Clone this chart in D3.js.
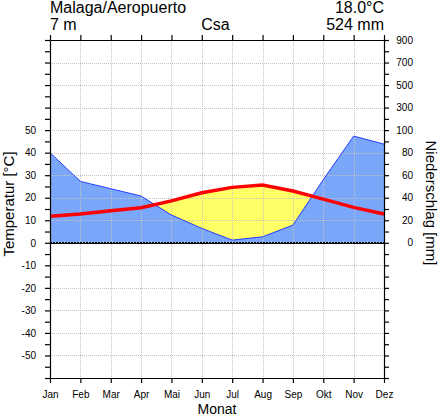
<!DOCTYPE html>
<html>
<head>
<meta charset="utf-8">
<script src="https://cdn.jsdelivr.net/npm/d3@7"></script>
<style>
  body { margin: 0; background: #fff; }
  svg text { font-family: "Liberation Sans", Arial, sans-serif; fill: #000; }
</style>
</head>
<body>
<div id="frame"></div>
<script>
'use strict'

var months = ["Jan", "Feb", "Mar", "Apr", "Mai", "Jun", "Jul", "Aug", "Sep", "Okt", "Nov", "Dez"]
var temp = [11.8, 12.8, 14.2, 15.6, 18.6, 22.2, 24.6, 25.6, 23.0, 19.4, 15.7, 12.8]
var precip = [80, 54.5, 48, 41.5, 24.6, 12.8, 2.4, 5.3, 15.7, 56, 94.7, 87.6]
var tempLabels = [-50, -40, -30, -20, -10, 0, 10, 20, 30, 40, 50]
var precipLabels = [0, 20, 40, 60, 80, 100, 300, 500, 700, 900]

var station = "Malaga/Aeropuerto"
var height_m = "7 m"
var climate = "Csa"
var meanTemp = "18.0°C"
var sumPrecip = "524 mm"

var W = 439, H = 418
var pLeft = 50, pRight = 384, pTop = 40, pBottom = 378

var svg = d3.select("#frame").append("svg")
  .attr("width", W)
  .attr("height", H)

var x = d3.scalePoint().domain(months).range([pLeft, pRight])
var yT = d3.scaleLinear().domain([-60, 90]).range([pBottom, pTop])
// precipitation: 20 mm = 10 °C up to 100 mm, then 200 mm per 10 °C
var yP = d3.scaleLinear().domain([0, 100, 900]).range([yT(0), yT(50), yT(90)])

var allTicks = d3.range(-60, 90.1, 5)

// yellow under temperature first, blue under precipitation on top
svg.append("path")
  .datum(months)
  .attr("d", d3.area()
    .x(d => x(d))
    .y0(yT(0))
    .y1((d, i) => yT(temp[i])))
  .attr("fill", "#ffff66")

svg.append("path")
  .datum(months)
  .attr("d", d3.area()
    .x(d => x(d))
    .y0(yT(0))
    .y1((d, i) => yP(precip[i])))
  .attr("fill", "#7aa7f9")

// grid
var grid = svg.append("g")
  .attr("stroke", "#c4c4c4")
  .attr("stroke-dasharray", "1,1")

grid.selectAll("line.h")
  .data(d3.range(-50, 81, 10).filter(v => v !== 0))
  .enter().append("line")
  .attr("x1", pLeft).attr("x2", pRight)
  .attr("y1", d => Math.round(yT(d)) + 0.5)
  .attr("y2", d => Math.round(yT(d)) + 0.5)

grid.selectAll("line.v")
  .data(months.slice(1, -1))
  .enter().append("line")
  .attr("x1", d => Math.round(x(d)) + 0.5)
  .attr("x2", d => Math.round(x(d)) + 0.5)
  .attr("y1", pTop).attr("y2", pBottom)

// precipitation line
svg.append("path")
  .datum(months)
  .attr("d", d3.line()
    .x(d => x(d))
    .y((d, i) => yP(precip[i])))
  .attr("fill", "none")
  .attr("stroke", "#2a3cff")
  .attr("stroke-width", 1)

// temperature line
svg.append("path")
  .datum(months)
  .attr("d", d3.line()
    .x(d => x(d))
    .y((d, i) => yT(temp[i])))
  .attr("fill", "none")
  .attr("stroke", "#ff0000")
  .attr("stroke-width", 3.5)

// zero line
var y0 = Math.round(yT(0))
svg.append("line")
  .attr("x1", pLeft).attr("x2", pRight)
  .attr("y1", y0 + 0.5).attr("y2", y0 + 0.5)
  .attr("stroke", "#000")
svg.append("line")
  .attr("x1", pLeft).attr("x2", pRight)
  .attr("y1", y0 - 0.5).attr("y2", y0 - 0.5)
  .attr("stroke", "#000")
  .attr("stroke-dasharray", "2,1")

// axes
function styleAxis(g) {
  g.selectAll("path.domain").attr("stroke", "#000").attr("stroke-width", 1.2)
  g.selectAll(".tick line").attr("stroke", "#000").attr("stroke-width", 1.2)
  g.selectAll("text").attr("font-size", 10).attr("fill", "#000")
    .style("font-family", "'Liberation Sans', Arial, sans-serif")
}

svg.append("g")
  .attr("transform", "translate(" + pLeft + ",0)")
  .call(d3.axisLeft(yT)
    .tickValues(allTicks)
    .tickSize(5).tickSizeOuter(0)
    .tickPadding(9)
    .tickFormat(d => tempLabels.indexOf(d) >= 0 ? d : ""))
  .call(styleAxis)

svg.append("g")
  .attr("transform", "translate(" + pRight + ",0)")
  .call(d3.axisRight(yT)
    .tickValues(allTicks)
    .tickSize(5).tickSizeOuter(0)
    .tickFormat(""))
  .call(styleAxis)

svg.append("g")
  .attr("class", "plabels")
  .selectAll("text")
  .data(precipLabels)
  .enter().append("text")
  .attr("x", 413)
  .attr("y", d => yP(d))
  .attr("dy", "0.35em")
  .attr("text-anchor", "end")
  .attr("font-size", 10)
  .text(d => d)

svg.append("g")
  .attr("transform", "translate(0," + pBottom + ")")
  .call(d3.axisBottom(x)
    .tickSize(5).tickSizeOuter(0)
    .tickPadding(8))
  .call(styleAxis)

svg.append("g")
  .attr("transform", "translate(0," + pTop + ")")
  .call(d3.axisTop(x)
    .tickSize(5).tickSizeOuter(0)
    .tickFormat(""))
  .call(styleAxis)

// header
svg.append("text").attr("x", pLeft).attr("y", 13).attr("font-size", 16).text(station)
svg.append("text").attr("x", pRight).attr("y", 13).attr("font-size", 16)
  .attr("text-anchor", "end").text(meanTemp)
svg.append("text").attr("x", pLeft).attr("y", 29.5).attr("font-size", 16).text(height_m)
svg.append("text").attr("x", 215.5).attr("y", 29.5).attr("font-size", 16)
  .attr("text-anchor", "middle").text(climate)
svg.append("text").attr("x", pRight).attr("y", 29.5).attr("font-size", 16)
  .attr("text-anchor", "end").text(sumPrecip)

// titles
svg.append("text")
  .attr("transform", "translate(14,204) rotate(-90)")
  .attr("text-anchor", "middle")
  .attr("font-size", 15)
  .text("Temperatur [°C]")

svg.append("text")
  .attr("transform", "translate(426,203) rotate(90)")
  .attr("text-anchor", "middle")
  .attr("font-size", 15)
  .text("Niederschlag [mm]")

svg.append("text")
  .attr("x", 217).attr("y", 414)
  .attr("text-anchor", "middle")
  .attr("font-size", 14)
  .text("Monat")
</script>
</body>
</html>
